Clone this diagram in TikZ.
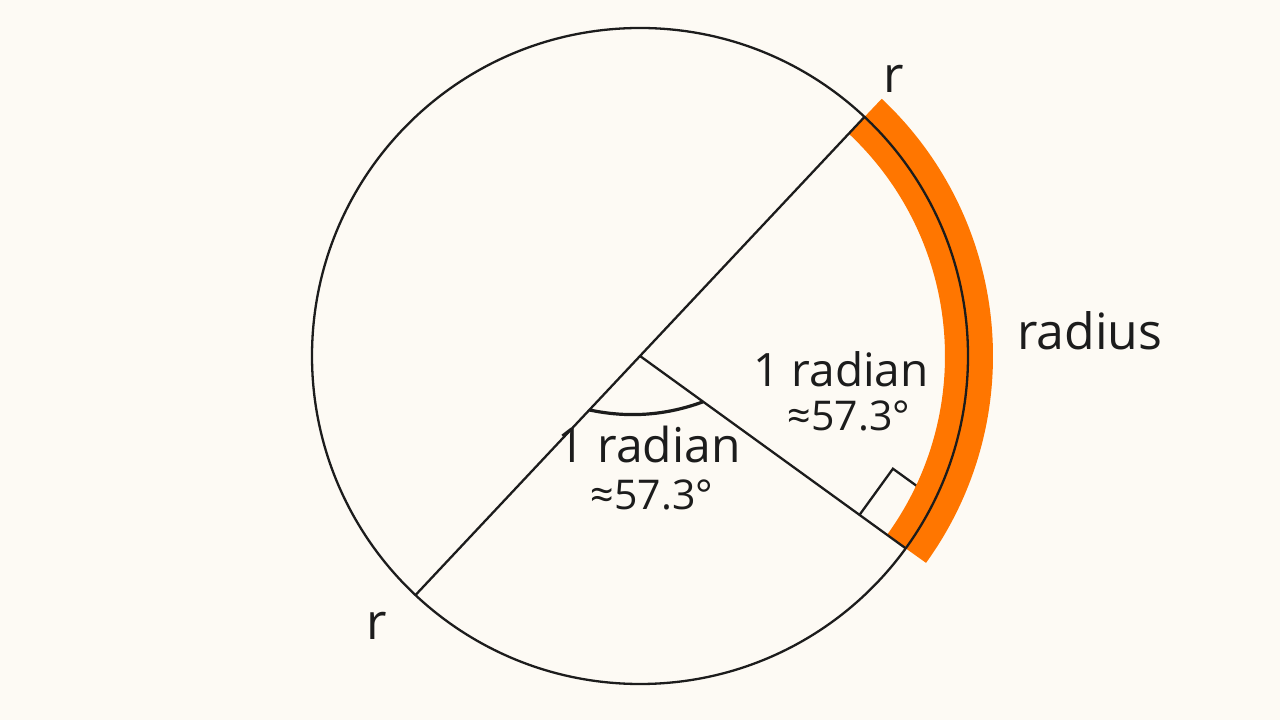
\documentclass[tikz,border=0pt]{standalone}
\usepackage{fontspec}
\setmainfont{Open Sans}
\usetikzlibrary{calc}
\definecolor{bg}{RGB}{253,250,244}
\definecolor{band}{RGB}{255,118,0}
\definecolor{ink}{RGB}{28,28,28}
\tikzset{
  geo/.style={draw=ink, line width=2.3pt},
  lbl/.style={inner sep=0pt, anchor=base, text=ink},
  big/.style={lbl, font=\fontsize{50}{60}\selectfont},
  mid/.style={lbl, font=\fontsize{46}{55}\selectfont},
  midb/.style={lbl, font=\fontsize{48}{57}\selectfont},
  small/.style={lbl, font=\fontsize{41}{50}\selectfont},
}
\begin{document}
\begin{tikzpicture}[x=1pt,y=1pt]
\fill[bg] (0,0) rectangle (1280,720);
\useasboundingbox (0,0) rectangle (1280,720);
\coordinate (O) at (640,364);
\coordinate (T) at ($(O)+(46.8:328)$);
\coordinate (L) at ($(O)+(226.8:328)$);
\coordinate (P) at ($(O)+(-35.9:328)$);
\coordinate (A) at ($(O)+(-35.9:271)$);
\coordinate (B) at ($(A)+(54.1:57)$);
\coordinate (Q) at ($(P)+(54.1:57)$);
\coordinate (BS) at ($(O)+(-35.9:329)$);
\coordinate (E1) at ($(O)+(226.8:74)$);
\coordinate (E2) at ($(O)+(-35.9:78)$);
\coordinate (C1) at ($(E1)!0.333!(E2)+(0.8,-11)$);
\coordinate (C2) at ($(E1)!0.667!(E2)+(0.8,-11)$);
% right-angle mark
\draw[geo] (A) -- (B) -- (Q);
% orange arc band
\draw[band, line width=48pt] (BS) arc[start angle=-35.9, end angle=46.8, radius=329];
% circle and radii
\draw[geo] (O) circle[radius=328];
\draw[geo] (L) -- (T);
\draw[geo] (O) -- (P);
% angle arc
\draw[draw=ink, line width=3.2pt] (E1) .. controls (C1) and (C2) .. (E2);
% labels
\node[big] (rt) at (894,627) {r};
\node[big] (rb) at (377,80) {r};
\node[big] (rad) at (1090,370) {radius};
\node[mid] (u1) at (841,333) {1 radian};
\node[small] (u2) at (849,289) {≈57.3°};
\node[midb] (l1) at (649,257) {1 radian};
\node[small] (l2) at (652,210) {≈57.3°};
\end{tikzpicture}
\end{document}
